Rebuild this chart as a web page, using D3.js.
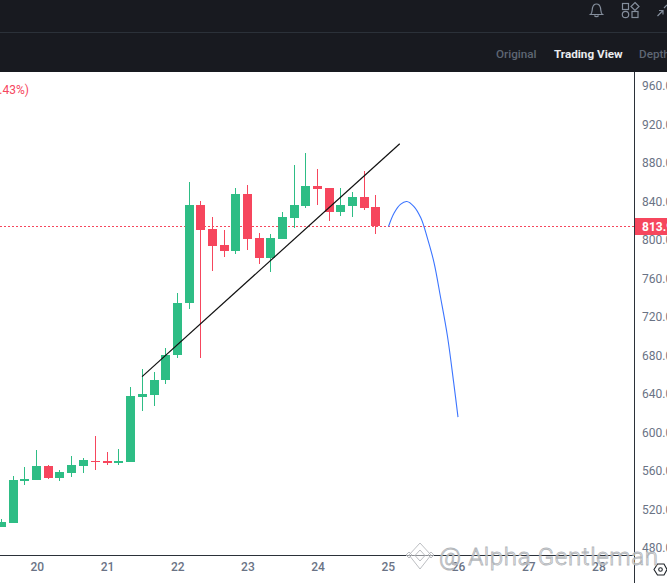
<!DOCTYPE html>
<html>
<head>
<meta charset="utf-8">
<title>Trading View</title>
<script src="https://cdn.jsdelivr.net/npm/d3@7"></script>
<style>
  html, body { margin: 0; padding: 0; background: #fff; overflow: hidden; }
  svg { display: block; font-family: Roboto, "Liberation Sans", sans-serif; }
</style>
</head>
<body>
<svg id="chart" width="667" height="583"></svg>
<script>
// candle data (one candle every 4 hours)
const candleDays = [19.5, 19.67, 19.83, 20, 20.17, 20.33, 20.5, 20.67, 20.83, 21, 21.17, 21.33, 21.5, 21.67, 21.83, 22, 22.17, 22.33, 22.5, 22.67, 22.83, 23, 23.17, 23.33, 23.5, 23.67, 23.83, 24, 24.17, 24.33, 24.5, 24.67, 24.83];
const opens = [501, 505, 549, 550, 564, 552, 557, 564, 569, 569, 567, 568, 636, 638, 653, 679, 733, 835, 810, 794, 788, 847, 801, 780, 800, 822, 834, 855, 853, 828, 834, 844, 833];
const closes = [506, 550, 551, 564, 552, 558, 565, 570, 568, 567, 569, 637, 639, 653, 680, 734, 835, 809, 793, 788, 847, 800, 780, 801, 823, 835, 855, 852, 828, 835, 844, 832, 814];
const highs = [509, 554, 563, 581, 565, 560, 575, 572, 595, 579, 582, 646, 665, 662, 687, 744, 859, 840, 823, 809, 853, 856, 806, 805, 828, 877, 889, 873, 853, 853, 849, 871, 846];
const lows = [501, 505, 544, 550, 551, 549, 553, 557, 560, 565, 565, 568, 621, 627, 649, 676, 727, 676, 767, 781, 784, 789, 774, 766, 800, 811, 832, 835, 819, 824, 823, 830, 805];

// drawn lines
const trendDays = [21.5, 25.17];
const trendPrices = [657, 899];
const curveDays = [25.01, 25.09, 25.18, 25.27, 25.37, 25.47, 25.56, 25.66, 25.75, 25.85, 25.94, 26];
const curvePrices = [813, 827, 836, 839, 834, 822, 802, 775, 740, 699, 650, 615];

// axis labels
const dayTicks = [20, 21, 22, 23, 24, 25, 26, 27, 28];
const priceTicks = [480, 520, 560, 600, 640, 680, 720, 760, 800, 840, 880, 920, 960];
const lastPrice = 813.96;

const green = "#2ebd85";
const red = "#f6465d";
const barWidth = 9;

const svg = d3.select("#chart");

const x = d3.scaleLinear().domain([20, 28]).range([36.8, 598.4]);
const y = d3.scaleLinear().domain([480, 960]).range([547, 85]);

svg.append("rect").attr("width", 667).attr("height", 583).attr("fill", "#fff");

// last price dotted line
svg.append("line")
  .attr("x1", 0).attr("x2", 634)
  .attr("y1", Math.round(y(lastPrice)) + 0.5).attr("y2", Math.round(y(lastPrice)) + 0.5)
  .attr("stroke", red).attr("stroke-width", 1).attr("stroke-dasharray", "2 2");

// candles
const candles = candleDays.map((d, i) => ({ day: d, open: opens[i], close: closes[i], high: highs[i], low: lows[i] }));
const candle = svg.append("g").selectAll("g").data(candles).enter().append("g")
  .attr("fill", d => d.close >= d.open ? green : red);

candle.append("rect")
  .attr("x", d => Math.round(x(d.day) - 0.5))
  .attr("width", 1)
  .attr("y", d => Math.round(y(d.high)))
  .attr("height", d => Math.round(y(d.low)) - Math.round(y(d.high)));

candle.append("rect")
  .attr("x", d => Math.round(x(d.day) - 0.5) - (barWidth - 1) / 2)
  .attr("width", barWidth)
  .attr("y", d => Math.round(y(Math.max(d.open, d.close))))
  .attr("height", d => Math.max(1, Math.round(y(Math.min(d.open, d.close))) - Math.round(y(Math.max(d.open, d.close)))));

// trend line
const lineGen = d3.line().x(d => x(d[0])).y(d => y(d[1]));
svg.append("path")
  .attr("d", lineGen(d3.zip(trendDays, trendPrices)))
  .attr("fill", "none").attr("stroke", "#111").attr("stroke-width", 1.2);

// projected curve
svg.append("path")
  .attr("d", lineGen.curve(d3.curveCatmullRom)(d3.zip(curveDays, curvePrices)))
  .attr("fill", "none").attr("stroke", "#3b74ff").attr("stroke-width", 1.1);

// axes
const xAxis = svg.append("g")
  .attr("transform", "translate(0,555)")
  .call(d3.axisBottom(x).tickValues(dayTicks).tickSize(0).tickPadding(7).tickFormat(d3.format("d")));
xAxis.select(".domain").remove();
xAxis.selectAll("text").attr("font-size", 12).attr("font-family", "Roboto").attr("fill", "#6a7385").attr("font-weight", 500);

const yAxis = svg.append("g")
  .attr("transform", "translate(634,1)")
  .call(d3.axisRight(y).tickValues(priceTicks).tickSize(0).tickPadding(8).tickFormat(d3.format(".2f")));
yAxis.select(".domain").remove();
yAxis.selectAll("text").attr("font-size", 12).attr("font-family", "Roboto").attr("fill", "#6a7385");

svg.append("line").attr("x1", 0).attr("x2", 634).attr("y1", 555.5).attr("y2", 555.5).attr("stroke", "#2b3139");
svg.append("line").attr("x1", 634.5).attr("x2", 634.5).attr("y1", 72).attr("y2", 583).attr("stroke", "#2b3139");

// price tag
svg.append("rect").attr("x", 635).attr("y", 218).attr("width", 32).attr("height", 17).attr("fill", red);
svg.append("text").attr("x", 642).attr("y", 231).attr("font-size", 12).attr("font-weight", 700)
  .attr("fill", "#fff").text(d3.format(".2f")(lastPrice));

// change text from the legend
svg.append("text").attr("x", -7.5).attr("y", 94).attr("font-size", 12).attr("fill", red).text("0.43%)");

// header
svg.append("rect").attr("width", 667).attr("height", 72).attr("fill", "#181a20");
svg.append("line").attr("x1", 0).attr("x2", 667).attr("y1", 32.5).attr("y2", 32.5).attr("stroke", "#2b3139");
const tabs = svg.append("g").attr("font-size", 11.7).attr("font-weight", 500);
tabs.append("text").attr("x", 496).attr("y", 58).attr("fill", "#5e6673").text("Original");
tabs.append("text").attr("x", 554).attr("y", 58).attr("fill", "#eaecef").attr("font-weight", 700).text("Trading View");
tabs.append("text").attr("x", 639).attr("y", 58).attr("fill", "#5e6673").text("Depth");

// header icons
const icons = svg.append("g").attr("fill", "none").attr("stroke", "#848e9c").attr("stroke-width", 1.2);
icons.append("path").attr("d", "M590.5 14.5 C592.5 13 592 10 592.5 8 C593 5.5 594.5 4 596.5 4 C598.5 4 600 5.5 600.5 8 C601 10 600.5 13 602.5 14.5 Z M594.5 15.5 C595 17 598 17 598.5 15.5");
icons.append("rect").attr("x", 622.5).attr("y", 3.5).attr("width", 6).attr("height", 6);
icons.append("path").attr("d", "M635 2.5 L639 6.5 L635 10.5 L631 6.5 Z");
icons.append("circle").attr("cx", 625.5).attr("cy", 14.5).attr("r", 3.2);
icons.append("rect").attr("x", 632).attr("y", 11.5).attr("width", 6).attr("height", 6);
icons.append("path").attr("d", "M657.5 16 L663 10.5 M659 10.5 L663 10.5 L663 14.5 M664 8 L667 5");

// hexagon settings icon
const hex = svg.append("g").attr("fill", "none").attr("stroke", "#1e2329").attr("stroke-width", 1.1);
hex.append("path").attr("d", "M654 569.5 L657.5 564 L664 564 L667 569.5 L664 575 L657.5 575 Z");
hex.append("circle").attr("cx", 660.5).attr("cy", 569.5).attr("r", 1.8);

// watermark
const mark = svg.append("g").attr("fill", "#fff").attr("fill-opacity", 0.45).attr("stroke", "#b4b7bb").attr("stroke-width", 0.9);
mark.append("path").attr("d", "M420 543 L431 555 L420 569 L409 555 Z M420 550 L425 555.5 L420 561 L415 555.5 Z M409 552 L412 555 L409 558 L406 555 Z M431 552 L434 555 L431 558 L428 555 Z");
mark.append("text").attr("x", 439).attr("y", 565).attr("font-size", 24).attr("font-family", "Roboto").attr("font-weight", 300)
  .attr("textLength", 219).text("@ Alpha Gentleman");
</script>
</body>
</html>
